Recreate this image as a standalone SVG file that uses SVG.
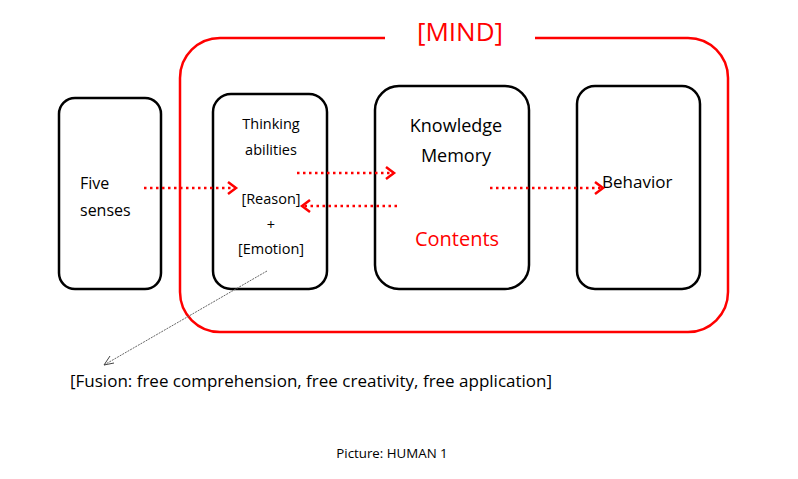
<svg xmlns="http://www.w3.org/2000/svg" width="798" height="479" viewBox="0 0 798 479">
<style>
text{font-family:"Open Sans","Noto Sans","Liberation Sans",sans-serif;fill:#000}
.box{fill:#fff;stroke:#000;stroke-width:2.5}
.r{stroke:#f00;stroke-width:2.5;stroke-dasharray:2.5 3.5;fill:none}
.ah{stroke:#f00;stroke-width:2.5;fill:none}
</style>
<rect width="798" height="479" fill="#fff"/>
<g id="mind">
<path d="M385 38 H220 A40 40 0 0 0 180 78 V292 A40 40 0 0 0 220 332 H688 A40 40 0 0 0 728 292 V78 A40 40 0 0 0 688 38 H535" fill="none" stroke="#f00" stroke-width="2.5"/>
<text x="460" y="41" text-anchor="middle" font-size="26" style="fill:#f00">[MIND]</text>
</g>
<g id="five"><rect class="box" x="59" y="98" width="102" height="191" rx="16"/>
<text x="80" y="189" font-size="16">Five</text><text x="80" y="216" font-size="16">senses</text></g>
<g id="thinking"><rect class="box" x="213" y="94" width="114" height="195" rx="18"/>
<text text-anchor="middle" font-size="14.5"><tspan x="271" y="129">Thinking</tspan><tspan x="271" y="155">abilities</tspan><tspan x="271" y="204">[Reason]</tspan><tspan x="271" y="230">+</tspan><tspan x="271" y="254">[Emotion]</tspan></text></g>
<g id="knowledge"><rect class="box" x="375" y="86" width="154" height="203" rx="24"/>
<text text-anchor="middle" font-size="18"><tspan x="456" y="132">Knowledge</tspan><tspan x="456" y="162">Memory</tspan></text>
<text x="457" y="246" text-anchor="middle" font-size="20" style="fill:#f00">Contents</text></g>
<g id="behavior"><rect class="box" x="577" y="86" width="123" height="203" rx="18"/>
<text x="602" y="188" font-size="17">Behavior</text></g>
<g id="connectors">
<line class="r" x1="144" y1="188" x2="236" y2="188"/><path class="ah" d="M228 182 L236 188 L228 194"/>
<line class="r" x1="297" y1="173" x2="394" y2="173"/><path class="ah" d="M386 167 L394 173 L386 179"/>
<line class="r" x1="397" y1="206" x2="302" y2="206"/><path class="ah" d="M310 200 L302 206 L310 212"/>
<line class="r" x1="490" y1="188" x2="603" y2="188"/><path class="ah" d="M595 182 L603 188 L595 194"/>
<line x1="267" y1="271" x2="104" y2="365" stroke="#666" stroke-width="1" stroke-dasharray="2 1"/>
<path d="M110 356 L104 365 L114 363" fill="none" stroke="#444" stroke-width="1"/>
</g>
<text x="70" y="387" font-size="17">[Fusion: free comprehension, free creativity, free application]</text>
<text x="392" y="458" text-anchor="middle" font-size="13.3">Picture: HUMAN 1</text>
</svg>
